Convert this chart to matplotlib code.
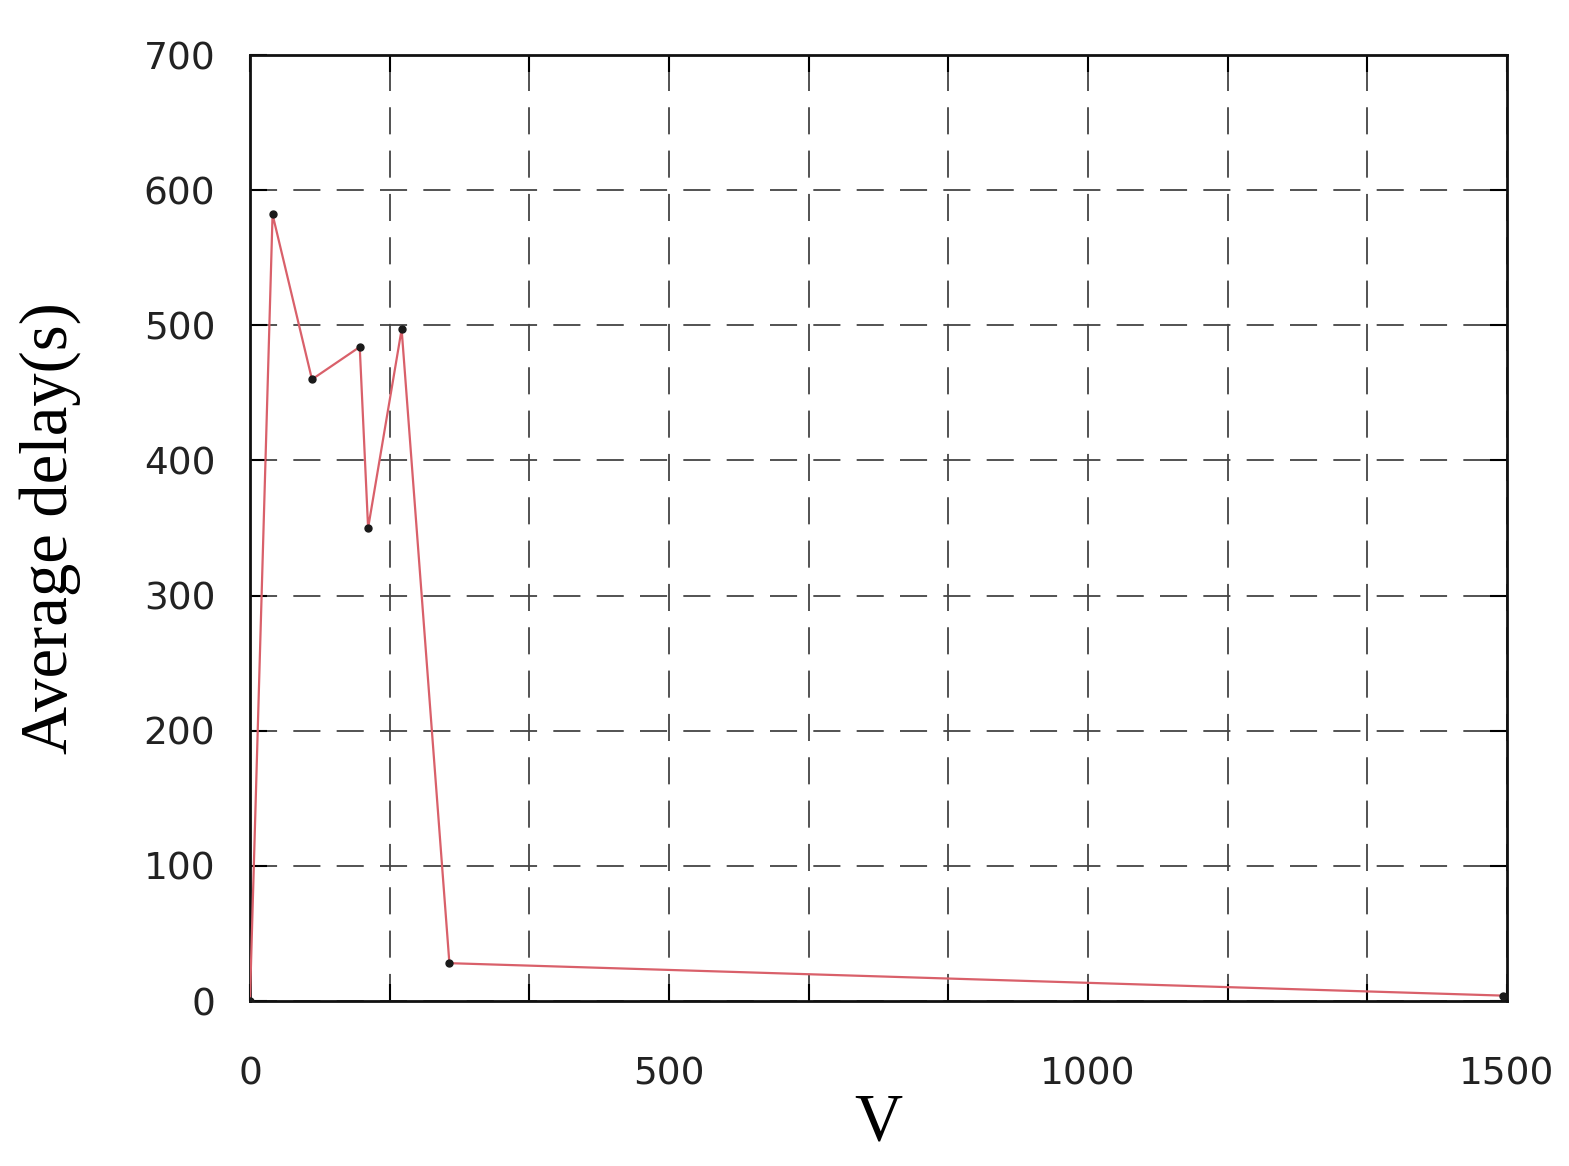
import numpy as np
import matplotlib.pyplot as plt

# data
V = [0, 27, 74, 131, 141, 181, 238, 1495]
delay = [0, 582, 460, 484, 350, 497, 28, 4]

xticks = np.linspace(0, 1500, 10)
xlabels = ['0', '', '', '500', '', '', '1000', '', '', '1500']
yticks = np.arange(0, 701, 100)

fig = plt.figure(figsize=(15.69, 11.66), dpi=100)
ax = fig.add_axes([0.1593, 0.1415, 0.8012, 0.8113])

ax.plot(V, delay, color='#d9606a', linewidth=1.6, zorder=3)
ax.plot(V, delay, 'o', color='#1a1a1a', markersize=5, zorder=4)

ax.set_xlim(0, 1500)
ax.set_ylim(0, 700)
ax.set_xticks(xticks)
ax.set_xticklabels(xlabels)
ax.set_yticks(yticks)

ax.grid(True, color='#444444', linestyle=(0, (15, 9)), linewidth=1.3)
ax.tick_params(direction='in', length=12, width=1.5, top=True, right=True,
               labelsize=27, labelcolor='#222222')
ax.tick_params(axis='x', pad=40)
ax.tick_params(axis='y', pad=25)
for s in ax.spines.values():
    s.set_linewidth(2)
    s.set_color('#111111')

ax.set_xlabel('V', fontfamily='Liberation Serif', fontsize=48, labelpad=0)
ax.set_ylabel('Average delay(s)', fontfamily='Liberation Serif', fontsize=48,
              labelpad=45)

plt.savefig('out.png', dpi=100)
